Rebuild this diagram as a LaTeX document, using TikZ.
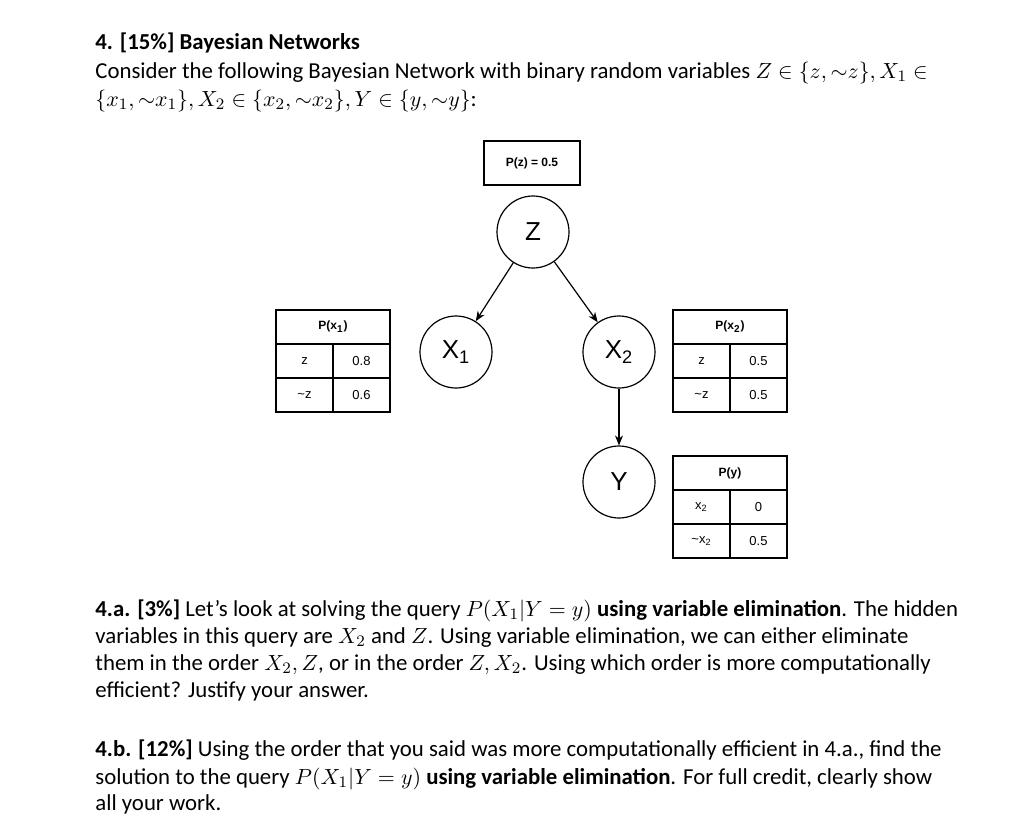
\documentclass[tikz,border=0pt]{standalone}
\usepackage{fontspec}
\setmainfont{Carlito}
\newfontfamily\helv{Liberation Sans}
\usetikzlibrary{arrows.meta}
\newcommand{\nt}{\mathord{\sim}}
\tikzset{
  var/.style={circle, draw, line width=0.6pt, minimum size=36pt, inner sep=0pt, font=\helv\fontsize{13}{15}\selectfont},
  cpt/.style={draw, line width=0.6pt, minimum height=17pt, inner sep=0pt, outer sep=0pt, anchor=north west, font=\helv\fontsize{6.5}{7.5}\selectfont},
  hdr/.style={font=\helv\bfseries\fontsize{6}{7}\selectfont},
  txt/.style={anchor=base west, inner sep=0pt, font=\fontsize{11.4}{13.4}\selectfont},
  edge/.style={-{Stealth[length=5pt,width=4pt]}, line width=0.6pt}
}
\begin{document}
\begin{tikzpicture}[x=0.5pt, y=-0.5pt]
\useasboundingbox (0,0) rectangle (1024,825);

\node[txt] (title) at (95,49) {\textbf{4. [15\%] Bayesian Networks}};
\node[txt] (intro1) at (95,78) {Consider the following Bayesian Network with binary random variables $Z \in \{z, \nt z\}, X_1 \in$};
\node[txt] (intro2) at (95,106) {$\{x_1, \nt x_1\}, X_2 \in \{x_2, \nt x_2\}, Y \in \{y, \nt y\}$:};

\node[draw, line width=0.6pt, minimum width=48pt, minimum height=22pt, hdr] (pz) at (532,163) {P(z) = 0.5};

\node[var] (z) at (533,232) {Z};
\node[var] (x1) at (456,352) {X\textsubscript{1}};
\node[var] (x2) at (619,352) {X\textsubscript{2}};
\node[var] (y) at (619,482) {Y};

\draw[edge] (z) -- (x1);
\draw[edge] (z) -- (x2);
\draw[edge] (x2) -- (y);

\foreach \n/\x/\y/\h/\ra/\va/\rb/\vb in {
  x1/276/310/{P(x\textsubscript{1})}/z/0.8/{\textasciitilde z}/0.6,
  x2/673/310/{P(x\textsubscript{2})}/z/0.5/{\textasciitilde z}/0.5,
  y/673/456/{P(y)}/{x\textsubscript{2}}/0/{\textasciitilde x\textsubscript{2}}/0.5} {
  \node[cpt, hdr, minimum width=57pt] (p\n) at (\x,\y) {\h};
  \node[cpt, minimum width=28.5pt] (\n-a) at (p\n.south west) {\ra};
  \node[cpt, minimum width=28.5pt] (\n-b) at (\n-a.north east) {\va};
  \node[cpt, minimum width=28.5pt] (\n-c) at (\n-a.south west) {\rb};
  \node[cpt, minimum width=28.5pt] (\n-d) at (\n-c.north east) {\vb};
}

\node[txt] (qa1) at (95,616) {\textbf{4.a. [3\%]} Let’s look at solving the query $P(X_1|Y=y)$ \textbf{using variable elimination}. The hidden};
\node[txt] (qa2) at (95,643) {variables in this query are $X_2$ and $Z$. Using variable elimination, we can either eliminate};
\node[txt] (qa3) at (95,670) {them in the order $X_2, Z$, or in the order $Z, X_2$. Using which order is more computationally};
\node[txt] (qa4) at (95,697) {efficient? Justify your answer.};

\node[txt] (qb1) at (95,756) {\textbf{4.b. [12\%]} Using the order that you said was more computationally efficient in 4.a., find the};
\node[txt] (qb2) at (95,784) {solution to the query $P(X_1|Y=y)$ \textbf{using variable elimination}. For full credit, clearly show};
\node[txt] (qb3) at (95,810) {all your work.};

\end{tikzpicture}
\end{document}
